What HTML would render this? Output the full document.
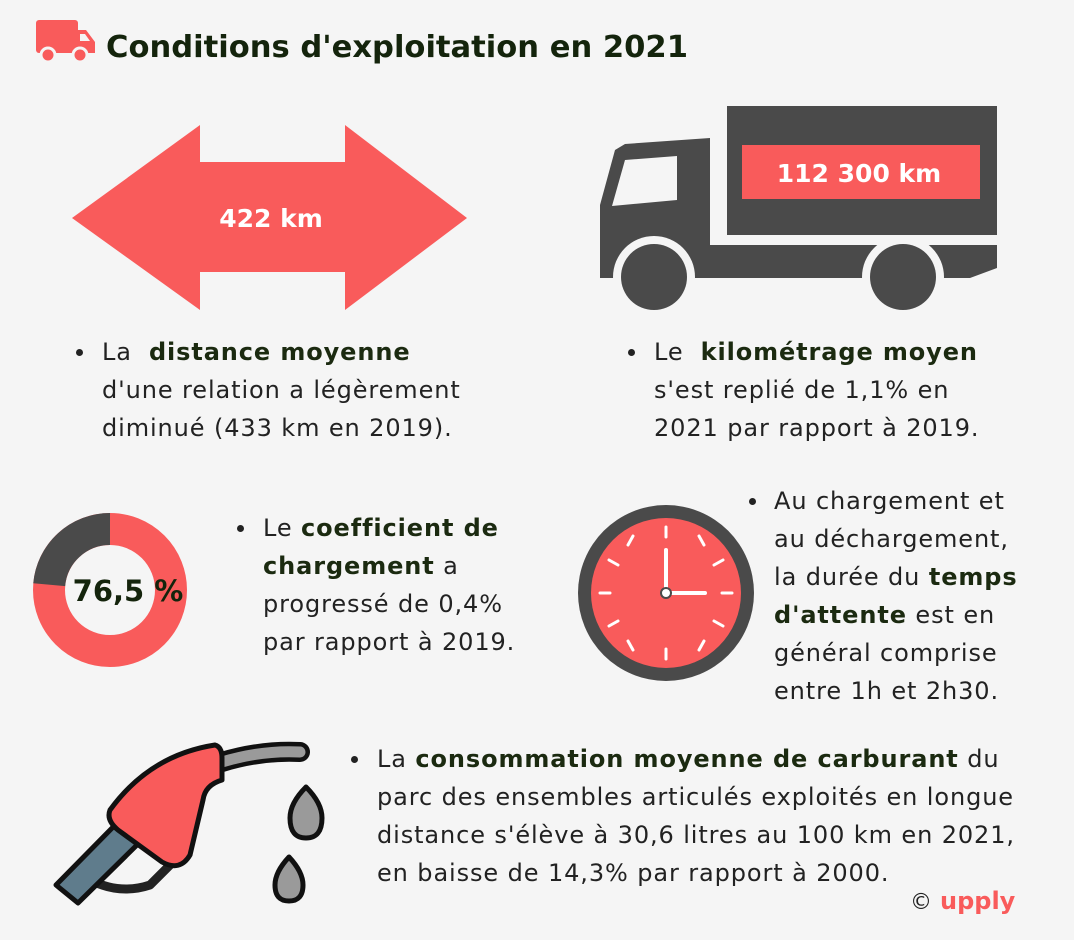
<!DOCTYPE html>
<html><head><meta charset="utf-8"><style>
body{margin:0;width:1074px;height:940px;background:#f5f5f5;font-family:"DejaVu Sans",sans-serif;overflow:hidden;position:relative}
.t{position:absolute;font-size:24px;line-height:38px;color:#222;letter-spacing:0.9px;white-space:nowrap}
.t b{color:#1b2a10}
.dot{position:absolute;width:7px;height:7px;border-radius:50%;background:#222}
</style></head><body>
<svg width="1074" height="940" style="position:absolute;left:0;top:0">
<rect x="36" y="20" width="42" height="33" rx="3" fill="#f95b5b"/>
<path d="M78 30 H86 L95 42 V53 H78 Z" fill="#f95b5b"/>
<path d="M80 34 H85 L90 41 H80Z" fill="#f5f5f5"/>
<circle cx="48" cy="55" r="7" fill="#f95b5b" stroke="#f5f5f5" stroke-width="3"/>
<circle cx="80" cy="55" r="7" fill="#f95b5b" stroke="#f5f5f5" stroke-width="3"/>
<text x="106" y="57" font-size="30" font-weight="bold" fill="#14240c" textLength="582" lengthAdjust="spacingAndGlyphs" font-family="DejaVu Sans,sans-serif">Conditions d'exploitation en 2021</text>
<polygon points="72,218 200,125 200,162 345,162 345,125 467,218 345,310 345,272 200,272 200,310" fill="#f95b5b"/>
<text x="271" y="227" font-size="25" font-weight="bold" fill="#fff" text-anchor="middle" font-family="DejaVu Sans,sans-serif">422 km</text>
<rect x="727" y="106" width="270" height="129" fill="#4a4a4a"/>
<rect x="742" y="145" width="238" height="54" fill="#f95b5b"/>
<text x="859" y="182" font-size="25" font-weight="bold" fill="#fff" text-anchor="middle" font-family="DejaVu Sans,sans-serif">112 300 km</text>
<path d="M625 144 L710 138 V245 H997 V268 L970 278 H600 V205 L615 150Z" fill="#4a4a4a"/>
<path d="M625 160 L677 156 V200 L612 206Z" fill="#f5f5f5"/>
<circle cx="654" cy="277" r="41" fill="#f5f5f5"/>
<circle cx="903" cy="277" r="41" fill="#f5f5f5"/>
<rect x="560" y="278" width="460" height="50" fill="#f5f5f5"/>
<circle cx="654" cy="277" r="33" fill="#4a4a4a"/>
<circle cx="903" cy="277" r="33" fill="#4a4a4a"/>
<circle cx="110" cy="590" r="61" fill="none" stroke="#f95b5b" stroke-width="32"/>
<path d="M110 529 A61 61 0 0 0 49.2 584.7" fill="none" stroke="#4a4a4a" stroke-width="32"/>
<text x="128" y="601" font-size="29" font-weight="bold" fill="#14240c" text-anchor="middle" font-family="DejaVu Sans,sans-serif">76,5 %</text>
<circle cx="666" cy="593" r="88" fill="#4a4a4a"/>
<circle cx="666" cy="593" r="75" fill="#f95b5b"/>
<g stroke="#fff" stroke-width="3" stroke-linecap="round">
<line x1="666" y1="527" x2="666" y2="537"/><line x1="666" y1="649" x2="666" y2="659"/>
<line x1="600" y1="593" x2="610" y2="593"/><line x1="722" y1="593" x2="732" y2="593"/>
<line x1="699" y1="536" x2="704" y2="545"/><line x1="723" y1="560" x2="714" y2="565"/>
<line x1="723" y1="626" x2="714" y2="621"/><line x1="699" y1="650" x2="704" y2="641"/>
<line x1="633" y1="536" x2="628" y2="545"/><line x1="609" y1="560" x2="618" y2="565"/>
<line x1="609" y1="626" x2="618" y2="621"/><line x1="633" y1="650" x2="628" y2="641"/>
<line x1="666" y1="593" x2="666" y2="550" stroke-width="4"/><line x1="666" y1="593" x2="705" y2="593" stroke-width="4"/>
</g>
<circle cx="666" cy="593" r="5" fill="#fff" stroke="#4a4a4a" stroke-width="2"/>
<g stroke="#111" stroke-width="5" stroke-linejoin="round" stroke-linecap="round">
<path d="M222 762 Q262 750 300 752" fill="none" stroke-width="20"/>
<path d="M222 762 Q262 750 300 752" fill="none" stroke="#9a9a9a" stroke-width="11"/>
<path d="M90 880 Q120 895 150 885 L175 860" fill="none" stroke="#222" stroke-width="9"/>
<path d="M56 885 L118 822 L140 842 L78 903Z" fill="#5f7c8c"/>
<path d="M110 810 Q150 755 215 745 Q222 747 222 758 V780 Q205 785 203 800 L190 855 Q180 872 162 862 L118 830 Q106 820 110 810Z" fill="#f95b5b"/>
<path d="M306 787 Q322 803 322 818 Q322 838 306 838 Q290 838 290 818 Q290 803 306 787Z" fill="#9a9a9a"/>
<path d="M289 857 Q303 872 303 885 Q303 901 289 901 Q275 901 275 885 Q275 872 289 857Z" fill="#9a9a9a"/>
</g>
<text x="910" y="909" font-size="22" fill="#222" font-family="DejaVu Sans,sans-serif">©</text>
<text x="940" y="909" font-size="24" font-weight="bold" fill="#f95b5b" font-family="DejaVu Sans,sans-serif">upply</text>
</svg>
<div class="dot" style="left:76px;top:349px"></div>
<div class="t" style="left:102px;top:333px">La &nbsp;<b>distance moyenne</b><br>d'une relation a légèrement<br>diminué (433 km en 2019).</div>
<div class="dot" style="left:628px;top:349px"></div>
<div class="t" style="left:654px;top:333px">Le &nbsp;<b>kilométrage moyen</b><br>s'est replié de 1,1% en<br>2021 par rapport à 2019.</div>
<div class="dot" style="left:237px;top:525px"></div>
<div class="t" style="left:263px;top:509px">Le <b>coefficient de<br>chargement</b> a<br>progressé de 0,4%<br>par rapport à 2019.</div>
<div class="dot" style="left:749px;top:498px"></div>
<div class="t" style="left:774px;top:482px">Au chargement et<br>au déchargement,<br>la durée du <b>temps<br>d'attente</b> est en<br>général comprise<br>entre 1h et 2h30.</div>
<div class="dot" style="left:351px;top:756px"></div>
<div class="t" style="left:377px;top:740px">La <b>consommation moyenne de carburant</b> du<br>parc des ensembles articulés exploités en longue<br>distance s'élève à 30,6 litres au 100 km en 2021,<br>en baisse de 14,3% par rapport à 2000.</div>
</body></html>
